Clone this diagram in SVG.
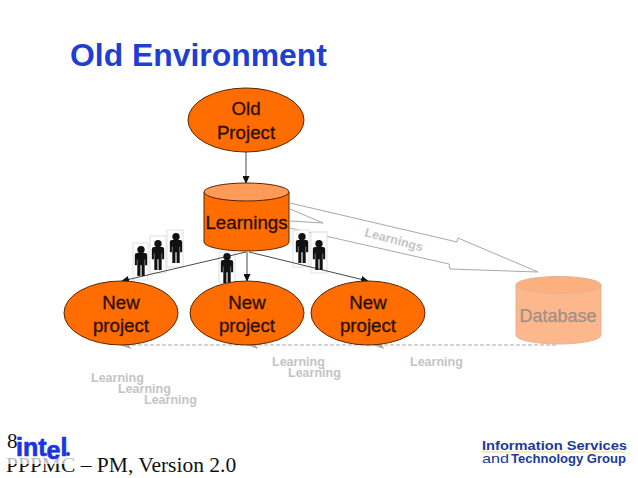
<svg xmlns="http://www.w3.org/2000/svg" xmlns:xlink="http://www.w3.org/1999/xlink" width="638" height="478" viewBox="0 0 638 478">
<style>
.s{font-family:"Liberation Sans",Arial,sans-serif}
.node{fill:#ff6c00;stroke:#5a2600;stroke-width:1}
.top{fill:#ff9a58;stroke:#5a2600;stroke-width:1}
.lbl{font-family:"Liberation Sans",Arial,sans-serif;font-size:18.7px;fill:#2a0f00;text-anchor:middle;stroke:#2a0f00;stroke-width:.3}
.lrn{font-family:"Liberation Sans",Arial,sans-serif;font-size:12.5px;font-weight:bold;fill:#c4c4c6}
.con{fill:none;stroke:#1a1a1a;stroke-width:.8}
.frame{fill:#fff;stroke:#e0e0e0;stroke-width:1}
.ser{font-family:"Liberation Serif","Times New Roman",serif;fill:#111}
</style>
<defs>
<marker id="ah" markerWidth="8" markerHeight="7" refX="7" refY="3.5" orient="auto" markerUnits="userSpaceOnUse"><path d="M0 0L8 3.5L0 7z" fill="#111"/></marker>
<g id="person"><circle cx="0" cy="-15" r="4.500" fill="#111"/><path d="M-5-11H5Q7.500-11 7.500-8.500V4H5V-3H4.500V17H.7V4H-.7V17H-4.500V-3H-5V4H-7.500V-8.500Q-7.500-11-5-11z" fill="#111"/></g>
</defs>

<text id="title" class="s" x="70" y="66" font-size="31.900" font-weight="bold" fill="#1f3fd2">Old Environment</text>

<g id="big-arrow"><path d="M290 203L457 242L458 238L538 272L450 269L449 264L290 228M290 209L323 223L290 221" fill="#fff" stroke="#a8a8a8" stroke-width="1"/>
<text class="lrn" x="0" y="0" transform="translate(364 236) rotate(15)">Learnings</text></g>

<g id="people">
<rect class="frame" x="133" y="243" width="15" height="37"/><use xlink:href="#person" transform="translate(141 262) scale(.82)"/>
<rect class="frame" x="150" y="236" width="16" height="37"/><use xlink:href="#person" transform="translate(158 256) scale(.82)"/>
<rect class="frame" x="167" y="230" width="16" height="37"/><use xlink:href="#person" transform="translate(176 249) scale(.82)"/>
<rect class="frame" x="219" y="252" width="16" height="31"/><use xlink:href="#person" transform="translate(227 269) scale(.82)"/>
<rect class="frame" x="293" y="230" width="16" height="37"/><use xlink:href="#person" transform="translate(302 249) scale(.82)"/>
<rect class="frame" x="311" y="232" width="16" height="41"/><use xlink:href="#person" transform="translate(319 256) scale(.82)"/>
</g>

<g id="connectors">
<line class="con" x1="246" y1="152" x2="246" y2="183" marker-end="url(#ah)"/>
<line class="con" x1="246" y1="252" x2="122" y2="281" marker-end="url(#ah)"/>
<line class="con" x1="247" y1="252" x2="247" y2="281" marker-end="url(#ah)"/>
<line class="con" x1="249" y1="252" x2="368" y2="281" marker-end="url(#ah)"/>
<line x1="556" y1="345" x2="128" y2="345" stroke="#a9a9ab" stroke-width="1" stroke-dasharray="4 2"/>
<path d="M131 341L120 345L131 349L129 345zM258 341L247 345L258 349L256 345zM384 341L373 345L384 349L382 345z" fill="#a9a9ab"/>
</g>

<g id="old-project"><ellipse class="node" cx="246" cy="120" rx="58" ry="32"/>
<text class="lbl" x="246" y="115">Old</text><text class="lbl" x="246" y="139">Project</text></g>

<g id="learnings"><path class="node" d="M204 192V242A42.500 9 0 0 0 289 242V192"/><ellipse class="top" cx="246.500" cy="192" rx="42.500" ry="9"/>
<text class="lbl" x="246.500" y="229">Learnings</text></g>

<g id="new1"><ellipse class="node" cx="121" cy="313" rx="57" ry="32"/>
<text class="lbl" x="121" y="309">New</text><text class="lbl" x="121" y="332">project</text></g>
<g id="new2"><ellipse class="node" cx="247" cy="313" rx="57" ry="32"/>
<text class="lbl" x="247" y="309">New</text><text class="lbl" x="247" y="332">project</text></g>
<g id="new3"><ellipse class="node" cx="368" cy="313" rx="57" ry="32"/>
<text class="lbl" x="368" y="309">New</text><text class="lbl" x="368" y="332">project</text></g>

<g id="database"><path d="M516 285V335A42.500 9 0 0 0 601 335V285" fill="#fdb78c" stroke="#e3b294" stroke-width="1"/><ellipse cx="558.500" cy="285" rx="42.500" ry="8.500" fill="#fdb07f" stroke="#e3b294" stroke-width="1"/>
<text class="s" x="558" y="322" font-size="18" text-anchor="middle" fill="#a09088" stroke="#a09088" stroke-width=".25">Database</text></g>

<g id="learning-labels">
<text class="lrn" x="272" y="366">Learning</text>
<text class="lrn" x="288" y="377">Learning</text>
<text class="lrn" x="410" y="366">Learning</text>
<text class="lrn" x="91" y="382">Learning</text>
<text class="lrn" x="118" y="393">Learning</text>
<text class="lrn" x="144" y="404">Learning</text>
</g>

<g id="footer">
<text class="ser" x="7" y="448" font-size="21">8</text>
<text class="ser" x="6" y="472" font-size="21.500">PPPMC – PM, Version 2.0</text>
<rect x="6" y="456" width="70" height="8" fill="#fff" opacity=".7"/>
<text class="s" x="16" y="456" font-size="25" font-weight="bold" fill="#1a35e0" stroke="#1a35e0" stroke-width=".7">int<tspan dy="3">e</tspan><tspan dy="-3">l</tspan></text>
<circle cx="68" cy="454" r="2" fill="#1a35e0"/>
</g>

<g id="its-logo">
<text class="s" x="482" y="449.500" font-size="13" font-weight="bold" fill="#1c3a96" textLength="145" lengthAdjust="spacingAndGlyphs">Information Services</text>
<line x1="482" y1="452" x2="626" y2="452" stroke="#f2cf58" stroke-width=".8"/>
<text class="s" x="482" y="463" font-size="13" fill="#1c3a96" textLength="27" lengthAdjust="spacingAndGlyphs">and</text>
<text class="s" x="511" y="463" font-size="13" font-weight="bold" fill="#1c3a96" textLength="115" lengthAdjust="spacingAndGlyphs">Technology Group</text>
</g>
</svg>
